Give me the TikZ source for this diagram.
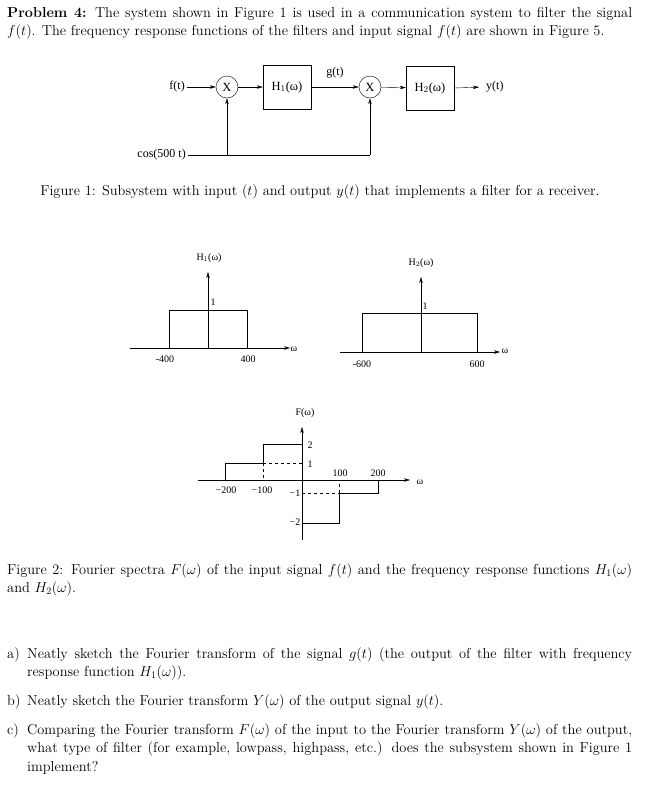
\documentclass[tikz,border=0pt]{standalone}
\usepackage{amsmath}
\usepackage{fontspec}
\newfontfamily\dfont{Liberation Serif}
\usetikzlibrary{arrows.meta}
\begin{document}
\begin{tikzpicture}[x=1pt,y=-1pt,
  txt/.style={anchor=north west,inner sep=0pt,align=justify,font=\fontsize{14.4}{18.5}\selectfont},
  sf/.style={font=\dfont\fontsize{12}{12}\selectfont,inner sep=2pt},
  blk/.style={draw,minimum width=48pt,minimum height=44pt,font=\dfont\fontsize{12.5}{12}\selectfont},
  mul/.style={draw,circle,minimum size=22pt,inner sep=0pt,font=\dfont\fontsize{12.5}{12}\selectfont},
  arr/.style={-{Stealth[length=6pt,width=3.5pt]}},
  lab/.style={font=\dfont\fontsize{10}{10}\selectfont,inner sep=1pt}]
\useasboundingbox (0,0) rectangle (658,788);
\fill[white] (0,0) rectangle (658,788);
\node[txt,text width=625pt] (p) at (7,7) {\textbf{Problem 4:} The system shown in Figure 1 is used in a communication system to filter the signal\linebreak $f(t)$. The frequency response functions of the filters and input signal $f(t)$ are shown in Figure 5.};
% block diagram
\node[sf,anchor=east] (f) at (187,87) {f(t)};
\node[mul] (m1) at (227,87) {X};
\node[blk] (h1) at (287,87) {H$_1$(ω)};
\node[mul] (m2) at (370,87) {X};
\node[blk] (h2) at (430,88) {H$_2$(ω)};
\node[sf,anchor=west] (y) at (484,87) {y(t)};
\node[sf] (g) at (335,73) {g(t)};
\node[sf,anchor=east] (c) at (188,155) {cos(500 t)};
\coordinate (j1) at (227,155);
\coordinate (j2) at (370,155);
\draw[arr] (f) -- (m1);
\draw[arr] (m1) -- (h1);
\draw[arr] (h1) -- (m2);
\draw[arr] (m2) -- (h2);
\draw[arr,shorten >=5pt] (h2.east) -- (y.west);
\draw (c) -- (j2);
\draw[arr] (j1) -- (m1);
\draw[arr] (j2) -- (m2);
\node[txt,anchor=north] (cap1) at (320,184) {Figure 1: Subsystem with input $(t)$ and output $y(t)$ that implements a filter for a receiver.};
% H1
\draw[arr] (130,348) -- (290,348);
\draw[arr] (208,348) -- (208,272);
\draw (169,348) -- (169,310) -- (247,310) -- (247,348);
\node[lab] at (209,258) {H$_1$(ω)};
\node[lab] at (213,302) {1};
\node[lab] at (294,349) {ω};
\node[lab] at (165,359) {-400};
\node[lab] at (248,359) {400};
% H2
\draw[arr] (340,352) -- (500,352);
\draw[arr] (421,352) -- (421,277);
\draw (362,352) -- (362,313) -- (477,313) -- (477,352);
\node[lab] at (421,263) {H$_2$(ω)};
\node[lab] at (425,306) {1};
\node[lab] at (505,351) {ω};
\node[lab] at (362,364) {-600};
\node[lab] at (477,364) {600};
% F
\draw[arr] (198,480) -- (410,480);
\draw[arr] (302,540) -- (302,427);
\draw (225,480) -- (225,463) -- (263,463) -- (263,444) -- (302,444);
\draw (302,523) -- (339,523) -- (339,493) -- (378,493) -- (378,480);
\draw[dashed] (263,463) -- (302,463) (263,463) -- (263,480);
\draw[dashed] (302,493) -- (339,493) (339,493) -- (339,480);
\node[lab] at (305,413) {F(ω)};
\node[lab] at (310,445) {2};
\node[lab] at (310,464) {1};
\node[lab] at (295,493) {−1};
\node[lab] at (295,522) {−2};
\node[lab] at (226,490) {−200};
\node[lab] at (262,490) {−100};
\node[lab] at (340,473) {100};
\node[lab] at (378,473) {200};
\node[lab] at (420,482) {ω};
\node[txt,text width=625pt] (cap2) at (7,563) {Figure 2: Fourier spectra $F(\omega)$ of the input signal $f(t)$ and the frequency response functions $H_1(\omega)$\linebreak and $H_2(\omega)$.};
\node[txt,anchor=north west] (la) at (7,647) {a)};
\node[txt,text width=605pt] (qa) at (27,647) {Neatly sketch the Fourier transform of the signal $g(t)$ (the output of the filter with frequency\linebreak response function $H_1(\omega)$).};
\node[txt] (lb) at (7,694) {b)};
\node[txt,text width=605pt] (qb) at (27,694) {Neatly sketch the Fourier transform $Y(\omega)$ of the output signal $y(t)$.};
\node[txt] (lc) at (7,723) {c)};
\node[txt,text width=605pt] (qc) at (27,723) {Comparing the Fourier transform $F(\omega)$ of the input to the Fourier transform $Y(\omega)$ of the output,\linebreak what type of filter (for example, lowpass, highpass, etc.) does the subsystem shown in Figure 1\linebreak implement?};
\end{tikzpicture}
\end{document}
